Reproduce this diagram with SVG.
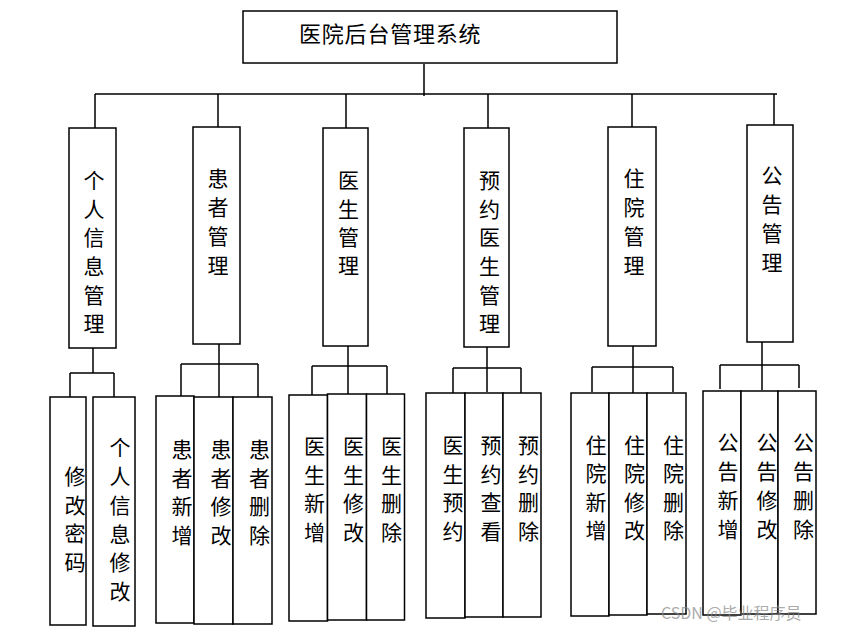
<svg xmlns="http://www.w3.org/2000/svg" width="846" height="633" viewBox="0 0 846 633">
<style>
.box{fill:#fff;stroke:#000;stroke-width:1.5}
.ln{stroke:#000;stroke-width:1.5;fill:none}
.t{font-family:"Noto Sans CJK SC","Liberation Sans",sans-serif;font-size:21px;fill:#000;text-anchor:middle}
.title{font-family:"Noto Sans CJK SC","Liberation Sans",sans-serif;font-size:22px;fill:#000;letter-spacing:0.8px}
.wm{font-family:"Noto Sans CJK SC","Liberation Sans",sans-serif;font-size:16px;fill:#888;opacity:0.7}
</style>
<rect width="846" height="633" fill="#fff"/>
<g id="connectors">
<path class="ln" d="M424 64V96M95 94H777M95 94V128M218 94V127M346 94V128M488 94V128M632 94V127M774 94V125"/>
<path class="ln" d="M93 348V373M70 373H114M70 373V397M114 373V397"/>
<path class="ln" d="M219 344V397M181 364H258M181 364V396M258 364V397"/>
<path class="ln" d="M348 346V394M312 366H387M312 366V395M387 366V394"/>
<path class="ln" d="M487 347V392M453 368H521M453 368V393M521 368V393"/>
<path class="ln" d="M633 346V393M592 367H673M592 367V392M673 367V392"/>
<path class="ln" d="M762 342V390M720 365H799M720 365V389M799 365V388"/>
</g>
<g id="root">
<rect class="box" x="243" y="11" width="374" height="52"/>
<text class="title" x="299" y="41.5">医院后台管理系统</text>
</g>
<g id="n1">
<rect class="box" x="69" y="128" width="47" height="220"/>
<text class="t"><tspan x="94" y="188">个</tspan><tspan x="94" y="216.5">人</tspan><tspan x="94" y="245">信</tspan><tspan x="94" y="274">息</tspan><tspan x="94" y="302.5">管</tspan><tspan x="94" y="331">理</tspan></text>
</g>
<g id="n2">
<rect class="box" x="193" y="127" width="47" height="217"/>
<text class="t"><tspan x="218" y="186">患</tspan><tspan x="218" y="215">者</tspan><tspan x="218" y="244">管</tspan><tspan x="218" y="273">理</tspan></text>
</g>
<g id="n3">
<rect class="box" x="323" y="128" width="45" height="218"/>
<text class="t"><tspan x="348.5" y="188">医</tspan><tspan x="348.5" y="216.5">生</tspan><tspan x="348.5" y="245">管</tspan><tspan x="348.5" y="273">理</tspan></text>
</g>
<g id="n4">
<rect class="box" x="464" y="128" width="45" height="219"/>
<text class="t"><tspan x="489.5" y="188">预</tspan><tspan x="489.5" y="216.5">约</tspan><tspan x="489.5" y="245">医</tspan><tspan x="489.5" y="274">生</tspan><tspan x="489.5" y="302.5">管</tspan><tspan x="489.5" y="331">理</tspan></text>
</g>
<g id="n5">
<rect class="box" x="608" y="127" width="48" height="219"/>
<text class="t"><tspan x="634" y="186">住</tspan><tspan x="634" y="215">院</tspan><tspan x="634" y="244">管</tspan><tspan x="634" y="273">理</tspan></text>
</g>
<g id="n6">
<rect class="box" x="747" y="125" width="46" height="217"/>
<text class="t"><tspan x="772" y="183">公</tspan><tspan x="772" y="212">告</tspan><tspan x="772" y="241">管</tspan><tspan x="772" y="270">理</tspan></text>
</g>
<g id="l1a">
<rect class="box" x="50" y="397" width="36" height="228"/>
<text class="t"><tspan x="75" y="484">修</tspan><tspan x="75" y="512.5">改</tspan><tspan x="75" y="541">密</tspan><tspan x="75" y="570">码</tspan></text>
</g>
<g id="l1b">
<rect class="box" x="93" y="397" width="42" height="229"/>
<text class="t"><tspan x="120" y="455">个</tspan><tspan x="120" y="484">人</tspan><tspan x="120" y="513">信</tspan><tspan x="120" y="541.5">息</tspan><tspan x="120" y="570">修</tspan><tspan x="120" y="599">改</tspan></text>
</g>
<g id="l2a">
<rect class="box" x="156" y="396" width="38" height="227"/>
<text class="t"><tspan x="182" y="457">患</tspan><tspan x="182" y="485.5">者</tspan><tspan x="182" y="514">新</tspan><tspan x="182" y="542.5">增</tspan></text>
</g>
<g id="l2b">
<rect class="box" x="194" y="397" width="39" height="227"/>
<text class="t"><tspan x="221" y="457">患</tspan><tspan x="221" y="485.5">者</tspan><tspan x="221" y="514">修</tspan><tspan x="221" y="542.5">改</tspan></text>
</g>
<g id="l2c">
<rect class="box" x="233" y="397" width="39" height="227"/>
<text class="t"><tspan x="259.5" y="457">患</tspan><tspan x="259.5" y="485.5">者</tspan><tspan x="259.5" y="514">删</tspan><tspan x="259.5" y="542.5">除</tspan></text>
</g>
<g id="l3a">
<rect class="box" x="289" y="395" width="38.5" height="226"/>
<text class="t"><tspan x="314.5" y="454">医</tspan><tspan x="314.5" y="482.5">生</tspan><tspan x="314.5" y="511">新</tspan><tspan x="314.5" y="539.5">增</tspan></text>
</g>
<g id="l3b">
<rect class="box" x="327.5" y="394" width="39" height="226"/>
<text class="t"><tspan x="353.5" y="454">医</tspan><tspan x="353.5" y="482.5">生</tspan><tspan x="353.5" y="511">修</tspan><tspan x="353.5" y="539.5">改</tspan></text>
</g>
<g id="l3c">
<rect class="box" x="366.5" y="394" width="38" height="226"/>
<text class="t"><tspan x="391.5" y="454">医</tspan><tspan x="391.5" y="482.5">生</tspan><tspan x="391.5" y="511">删</tspan><tspan x="391.5" y="539.5">除</tspan></text>
</g>
<g id="l4a">
<rect class="box" x="426" y="393" width="39" height="225"/>
<text class="t"><tspan x="453" y="453">医</tspan><tspan x="453" y="481.5">生</tspan><tspan x="453" y="510">预</tspan><tspan x="453" y="538.5">约</tspan></text>
</g>
<g id="l4b">
<rect class="box" x="465" y="393" width="38" height="224"/>
<text class="t"><tspan x="491" y="453">预</tspan><tspan x="491" y="481.5">约</tspan><tspan x="491" y="510">查</tspan><tspan x="491" y="538.5">看</tspan></text>
</g>
<g id="l4c">
<rect class="box" x="503" y="393" width="38" height="224"/>
<text class="t"><tspan x="528.5" y="453">预</tspan><tspan x="528.5" y="481.5">约</tspan><tspan x="528.5" y="510">删</tspan><tspan x="528.5" y="538.5">除</tspan></text>
</g>
<g id="l5a">
<rect class="box" x="571" y="393" width="38" height="223"/>
<text class="t"><tspan x="596" y="452.5">住</tspan><tspan x="596" y="481">院</tspan><tspan x="596" y="509.5">新</tspan><tspan x="596" y="538">增</tspan></text>
</g>
<g id="l5b">
<rect class="box" x="609" y="393" width="38" height="222"/>
<text class="t"><tspan x="634.5" y="452.5">住</tspan><tspan x="634.5" y="481">院</tspan><tspan x="634.5" y="509.5">修</tspan><tspan x="634.5" y="538">改</tspan></text>
</g>
<g id="l5c">
<rect class="box" x="647" y="393" width="39" height="221"/>
<text class="t"><tspan x="673.5" y="452.5">住</tspan><tspan x="673.5" y="481">院</tspan><tspan x="673.5" y="509.5">删</tspan><tspan x="673.5" y="538">除</tspan></text>
</g>
<g id="l6a">
<rect class="box" x="703" y="391" width="38" height="224"/>
<text class="t"><tspan x="728" y="450">公</tspan><tspan x="728" y="479">告</tspan><tspan x="728" y="508">新</tspan><tspan x="728" y="536.5">增</tspan></text>
</g>
<g id="l6b">
<rect class="box" x="741" y="391" width="37" height="223"/>
<text class="t"><tspan x="767" y="450">公</tspan><tspan x="767" y="479">告</tspan><tspan x="767" y="508">修</tspan><tspan x="767" y="536.5">改</tspan></text>
</g>
<g id="l6c">
<rect class="box" x="778" y="391" width="38" height="223"/>
<text class="t"><tspan x="803.5" y="450">公</tspan><tspan x="803.5" y="479">告</tspan><tspan x="803.5" y="508">删</tspan><tspan x="803.5" y="536.5">除</tspan></text>
</g>
<text class="wm" x="661" y="619">CSDN @毕业程序员</text>
</svg>
